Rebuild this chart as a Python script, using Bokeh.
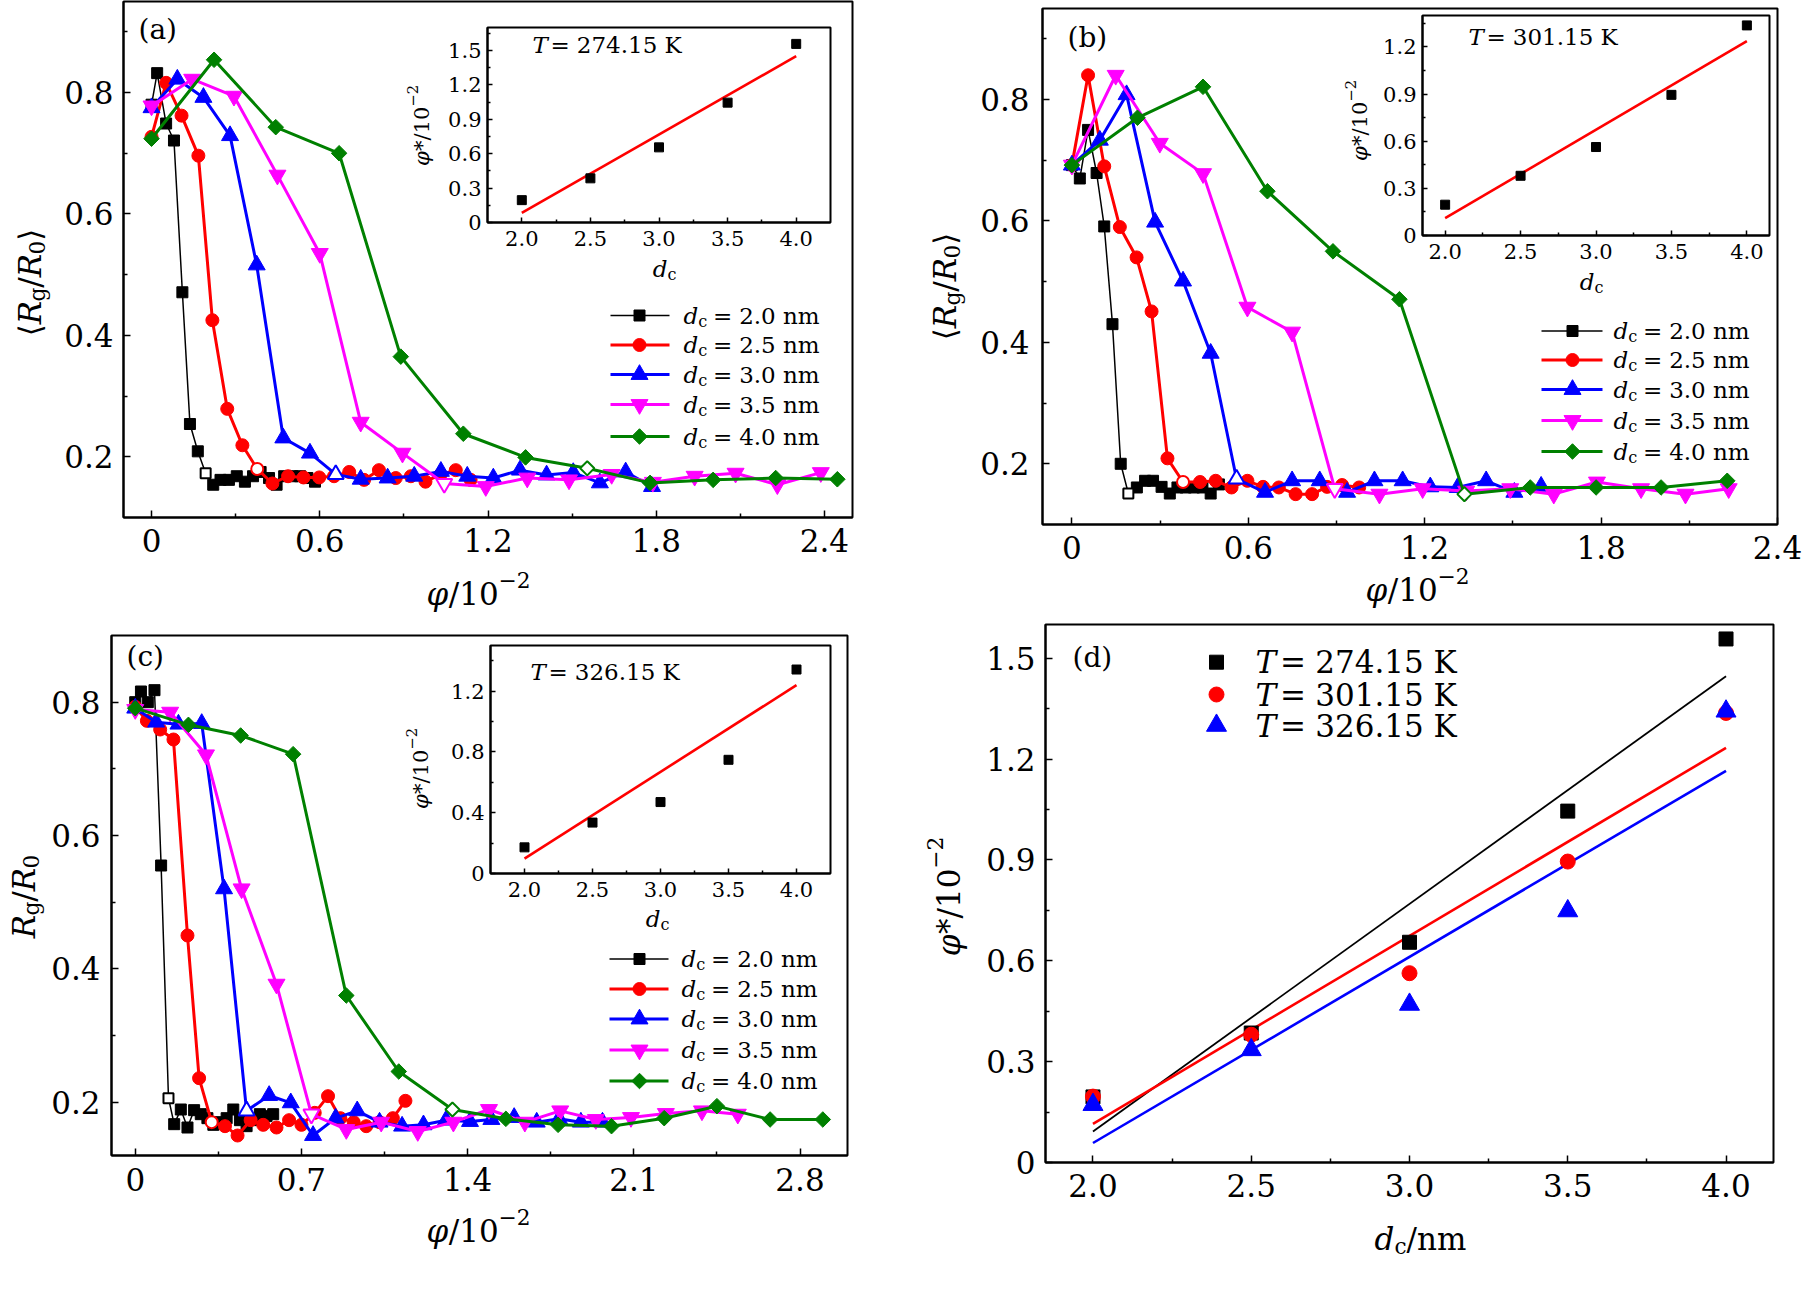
import numpy as np
from bokeh.plotting import figure
from bokeh.models import Range1d, FixedTicker, Label, GridBox, CustomJSTickFormatter
from bokeh.embed import file_html
from bokeh.resources import INLINE

FONT = "DejaVu Serif"

# ================= data =================
dc_labels = ["2.0", "2.5", "3.0", "3.5", "4.0"]
temp_labels = ["274.15", "301.15", "326.15"]

# ---- panel (a)  T = 274.15 K : <Rg/R0> vs phi (1e-2) ----
a20_phi = [0.0, 0.020, 0.052, 0.080, 0.110, 0.137, 0.165, 0.193, 0.220, 0.246, 0.276, 0.304, 0.333, 0.362, 0.389, 0.419, 0.446, 0.473, 0.502, 0.530, 0.556, 0.583]
a20_rg = [0.780, 0.832, 0.749, 0.721, 0.471, 0.254, 0.209, 0.173, 0.154, 0.162, 0.162, 0.168, 0.159, 0.168, 0.175, 0.165, 0.154, 0.168, 0.168, 0.168, 0.165, 0.159]
a25_phi = [0.0, 0.052, 0.107, 0.167, 0.217, 0.270, 0.324, 0.377, 0.431, 0.487, 0.542, 0.598, 0.651, 0.705, 0.758, 0.811, 0.871, 0.925, 0.977, 1.031, 1.085, 1.138]
a25_rg = [0.727, 0.816, 0.762, 0.696, 0.425, 0.279, 0.219, 0.180, 0.156, 0.168, 0.166, 0.166, 0.168, 0.175, 0.162, 0.178, 0.165, 0.168, 0.159, 0.171, 0.178, 0.162]
a30_phi = [0.0, 0.092, 0.185, 0.280, 0.375, 0.470, 0.565, 0.657, 0.746, 0.842, 0.937, 1.032, 1.126, 1.219, 1.314, 1.409, 1.504, 1.599, 1.691, 1.785]
a30_rg = [0.775, 0.822, 0.792, 0.729, 0.516, 0.231, 0.206, 0.171, 0.163, 0.165, 0.168, 0.176, 0.168, 0.165, 0.178, 0.170, 0.174, 0.157, 0.175, 0.151]
a35_phi = [0.0, 0.145, 0.294, 0.449, 0.600, 0.746, 0.895, 1.044, 1.192, 1.340, 1.489, 1.641, 1.788, 1.937, 2.083, 2.232, 2.387]
a35_rg = [0.778, 0.822, 0.794, 0.664, 0.535, 0.257, 0.206, 0.156, 0.151, 0.165, 0.162, 0.171, 0.158, 0.168, 0.173, 0.154, 0.174]
a40_phi = [0.0, 0.223, 0.443, 0.669, 0.889, 1.112, 1.334, 1.554, 1.778, 2.003, 2.226, 2.446]
a40_rg = [0.724, 0.854, 0.743, 0.700, 0.365, 0.238, 0.199, 0.181, 0.157, 0.162, 0.165, 0.163]
a_open = [7, 7, 7, 7, 7]

# ---- panel (b)  T = 301.15 K ----
b20_phi = [0.0, 0.027, 0.055, 0.084, 0.110, 0.138, 0.166, 0.192, 0.221, 0.249, 0.276, 0.305, 0.333, 0.359, 0.387, 0.415, 0.444, 0.472, 0.500]
b20_rg = [0.692, 0.670, 0.750, 0.679, 0.591, 0.430, 0.200, 0.151, 0.161, 0.172, 0.172, 0.162, 0.151, 0.161, 0.161, 0.161, 0.161, 0.151, 0.166]
b25_phi = [0.0, 0.055, 0.110, 0.163, 0.220, 0.271, 0.325, 0.378, 0.436, 0.489, 0.543, 0.597, 0.650, 0.704, 0.761, 0.817, 0.868, 0.919, 0.977]
b25_rg = [0.692, 0.840, 0.690, 0.590, 0.540, 0.451, 0.209, 0.170, 0.170, 0.172, 0.161, 0.172, 0.162, 0.161, 0.150, 0.150, 0.162, 0.165, 0.161]
b30_phi = [0.0, 0.095, 0.186, 0.283, 0.378, 0.472, 0.560, 0.657, 0.749, 0.843, 0.936, 1.029, 1.125, 1.219, 1.312, 1.409, 1.505, 1.596]
b30_rg = [0.692, 0.733, 0.808, 0.598, 0.501, 0.382, 0.175, 0.153, 0.172, 0.172, 0.153, 0.172, 0.172, 0.162, 0.161, 0.172, 0.153, 0.163]
b35_phi = [0.0, 0.149, 0.299, 0.446, 0.597, 0.749, 0.894, 1.046, 1.193, 1.341, 1.491, 1.639, 1.786, 1.936, 2.087, 2.234]
b35_rg = [0.692, 0.840, 0.728, 0.678, 0.458, 0.417, 0.159, 0.150, 0.159, 0.155, 0.159, 0.150, 0.170, 0.159, 0.150, 0.159]
b40_phi = [0.0, 0.223, 0.446, 0.665, 0.888, 1.114, 1.335, 1.559, 1.783, 2.004, 2.229]
b40_rg = [0.692, 0.770, 0.821, 0.649, 0.550, 0.471, 0.150, 0.161, 0.161, 0.161, 0.172]
b_open = [7, 7, 6, 6, 6]

# ---- panel (c)  T = 326.15 K ----
c20_phi = [0.0, 0.024, 0.053, 0.081, 0.109, 0.140, 0.164, 0.192, 0.220, 0.248, 0.276, 0.304, 0.329, 0.357, 0.385, 0.413, 0.441, 0.469, 0.497, 0.525, 0.553, 0.581]
c20_rg = [0.800, 0.816, 0.800, 0.818, 0.555, 0.206, 0.167, 0.189, 0.162, 0.188, 0.182, 0.176, 0.166, 0.170, 0.176, 0.189, 0.173, 0.164, 0.173, 0.182, 0.179, 0.182]
c25_phi = [0.0, 0.049, 0.105, 0.161, 0.220, 0.269, 0.322, 0.378, 0.431, 0.486, 0.539, 0.595, 0.648, 0.700, 0.756, 0.812, 0.864, 0.920, 0.973, 1.029, 1.085, 1.138]
c25_rg = [0.793, 0.772, 0.759, 0.744, 0.450, 0.236, 0.170, 0.164, 0.150, 0.173, 0.166, 0.162, 0.173, 0.166, 0.184, 0.209, 0.176, 0.170, 0.164, 0.170, 0.176, 0.202]
c30_phi = [0.0, 0.088, 0.182, 0.280, 0.374, 0.469, 0.564, 0.655, 0.749, 0.844, 0.935, 1.029, 1.124, 1.214, 1.309, 1.410, 1.500, 1.596, 1.691, 1.785, 1.877, 1.968]
c30_rg = [0.791, 0.770, 0.767, 0.768, 0.520, 0.187, 0.210, 0.199, 0.150, 0.176, 0.187, 0.170, 0.164, 0.166, 0.173, 0.171, 0.174, 0.177, 0.170, 0.175, 0.170, 0.170]
c35_phi = [0.0, 0.147, 0.298, 0.448, 0.595, 0.742, 0.889, 1.036, 1.190, 1.340, 1.490, 1.641, 1.790, 1.940, 2.088, 2.235, 2.387, 2.538]
c35_rg = [0.789, 0.785, 0.721, 0.520, 0.377, 0.182, 0.159, 0.170, 0.156, 0.170, 0.189, 0.170, 0.187, 0.174, 0.177, 0.183, 0.187, 0.182]
c40_phi = [0.0, 0.224, 0.444, 0.665, 0.889, 1.110, 1.336, 1.561, 1.781, 2.006, 2.228, 2.450, 2.674, 2.896]
c40_rg = [0.791, 0.766, 0.750, 0.722, 0.360, 0.246, 0.189, 0.175, 0.166, 0.164, 0.176, 0.194, 0.174, 0.174]
c_open = [5, 6, 5, 5, 6]

# ---- panel (d) and insets : phi* vs d_c ----
dc_nm = [2.0, 2.5, 3.0, 3.5, 4.0]
phi_star_274 = [0.195, 0.385, 0.655, 1.045, 1.557]
phi_star_301 = [0.196, 0.380, 0.563, 0.895, 1.337]
phi_star_326 = [0.172, 0.335, 0.470, 0.748, 1.342]
fit_dc = [2.0, 4.0]
fit_274 = [0.092, 1.446]
fit_301 = [0.115, 1.233]
fit_326 = [0.058, 1.165]
inset_fit_274 = [0.083, 1.450]
inset_fit_301 = [0.110, 1.237]
inset_fit_326 = [0.098, 1.239]

# ================= styling =================
COLORS = ["#000000", "#ff0000", "#0000ff", "#ff00ff", "#008000"]
MARKERS = ["square", "circle", "triangle", "inverted_triangle", "diamond"]
LINE_W = [1.5, 3, 3, 3, 3]
MSIZE = {"square": 11, "circle": 13, "triangle": 17, "inverted_triangle": 17, "diamond": 11}

EM = {'.': 0.318, ' ': 0.318, '=': 0.838, 'n': 0.644, 'm': 0.948, 'K': 0.738, 'T': 0.668,
      'd': 0.640, 'c': 0.560, '/': 0.337, 'R': 0.730, 'g': 0.640, '\u27e8': 0.39, '\u27e9': 0.39,
      '\u03c6': 0.72, '*': 0.5, '\u2212': 0.838, '(': 0.39, ')': 0.39, 'a': 0.596, 'b': 0.640}
for _d in "0123456789":
    EM[_d] = 0.636


def tw(s, fs):
    return sum(EM.get(ch, 0.6) for ch in s) * fs


class Spec:
    def __init__(self, box, frame, xr, yr):
        self.box, self.frame, self.xr, self.yr = box, frame, xr, yr

    def dx(self, px):
        l, t, r, b = self.frame
        return self.xr[0] + (px - l) / (r - l) * (self.xr[1] - self.xr[0])

    def dy(self, py):
        l, t, r, b = self.frame
        return self.yr[1] - (py - t) / (b - t) * (self.yr[1] - self.yr[0])


def make_fig(s, xt, xm, yt, ym, tick_fs, xstd, ystd, tin, tmin, transparent=False):
    x0, y0, w, h = s.box
    l, t, r, b = s.frame
    p = figure(width=w, height=h, x_range=Range1d(*s.xr), y_range=Range1d(*s.yr),
               output_backend="svg", toolbar_location=None, tools="",
               min_border_left=l - x0, min_border_right=x0 + w - r,
               min_border_top=t - y0, min_border_bottom=y0 + h - b)
    p.frame_align = False
    p.xgrid.visible = False
    p.ygrid.visible = False
    p.outline_line_color = "black"
    p.outline_line_width = 2
    p.outline_line_alpha = 1
    if transparent:
        p.background_fill_alpha = 0
        p.border_fill_alpha = 0
    else:
        p.background_fill_color = "white"
        p.border_fill_color = "white"
    fmt = CustomJSTickFormatter(code="return Math.abs(tick) < 1e-9 ? '0' : tick.toFixed(1);")
    for ax, ticks, minor, std in ((p.xaxis[0], xt, xm, xstd), (p.yaxis[0], yt, ym, ystd)):
        ax.ticker = FixedTicker(ticks=ticks, minor_ticks=minor)
        ax.formatter = fmt
        ax.axis_line_color = "black"
        ax.axis_line_width = 2
        ax.major_tick_in = tin
        ax.major_tick_out = 0
        ax.minor_tick_in = tmin
        ax.minor_tick_out = 0
        ax.major_tick_line_color = "black"
        ax.major_tick_line_width = 1.5
        ax.minor_tick_line_color = "black"
        ax.minor_tick_line_width = 1.5
        ax.major_label_text_font = FONT
        ax.major_label_text_font_size = f"{tick_fs}px"
        ax.major_label_text_color = "black"
        ax.major_label_standoff = std
    return p


# transparent page-wide overlay that carries the composite (sub/superscripted) texts
PAGE_W, PAGE_H = 1805, 1293
SOV = Spec((0, 0, PAGE_W, PAGE_H), (0, 0, PAGE_W, PAGE_H), (0, PAGE_W), (PAGE_H, 0))
ov = figure(width=PAGE_W, height=PAGE_H, x_range=Range1d(0, PAGE_W), y_range=Range1d(PAGE_H, 0),
            x_axis_type=None, y_axis_type=None, output_backend="svg", toolbar_location=None, tools="",
            min_border_left=0, min_border_right=0, min_border_top=0, min_border_bottom=0)
ov.frame_align = False
ov.xgrid.visible = False
ov.ygrid.visible = False
ov.outline_line_color = None
ov.background_fill_alpha = 0
ov.border_fill_alpha = 0


def rich(segs, cx, cy, vertical=False, align="center"):
    """segs: (text, font px, downward shift px, italic, gap before px) -- page pixel coords"""
    segs = [tuple(sg) + (0, 0, False, 0)[len(sg) - 1:] for sg in segs]
    total = sum(tw(t, f) + g for t, f, d, it, g in segs)
    if not vertical:
        x = cx - total / 2 if align == "center" else cx
        base = cy
        for t, f, d, it, g in segs:
            x += g
            ov.add_layout(Label(x=SOV.dx(x), y=SOV.dy(base + d), text=t, text_font=FONT,
                                text_font_size=f"{f:.1f}px",
                                text_font_style="italic" if it else "normal",
                                text_align="left", text_baseline="alphabetic", text_color="black"))
            x += tw(t, f)
    else:
        y = cy + total / 2
        base = cx
        for t, f, d, it, g in segs:
            y -= g
            ov.add_layout(Label(x=SOV.dx(base + d), y=SOV.dy(y), text=t, text_font=FONT,
                                text_font_size=f"{f:.1f}px", angle=np.pi / 2,
                                text_font_style="italic" if it else "normal",
                                text_align="left", text_baseline="alphabetic", text_color="black"))
            y -= tw(t, f)


def draw_marker(p, xs, ys, kind, color, size, hollow=False):
    kw = dict(size=size, line_color=color, fill_color=("white" if hollow else color),
              line_width=(2 if hollow else 1))
    if kind == "diamond":
        p.scatter(xs, ys, marker="square", angle=np.pi / 4, **kw)
    else:
        p.scatter(xs, ys, marker=kind, **kw)


def draw_curves(p, curves, opens):
    for k, (xs, ys) in enumerate(curves):
        p.line(xs, ys, line_color=COLORS[k], line_width=LINE_W[k])
        hi = opens[k]
        fx = [v for i, v in enumerate(xs) if i != hi]
        fy = [v for i, v in enumerate(ys) if i != hi]
        draw_marker(p, fx, fy, MARKERS[k], COLORS[k], MSIZE[MARKERS[k]])
        draw_marker(p, [xs[hi]], [ys[hi]], MARKERS[k], COLORS[k], MSIZE[MARKERS[k]] - 1, hollow=True)


def dc_text(fs, val, tail):
    return [("d", fs, 0, True), ("c", 0.7 * fs, 0.25 * fs, False), ("=", fs, 0, False, 0.25 * fs),
            (val + tail, fs, 0, False, 0.3 * fs)]


def dc_legend(p, s, rows, lx0, lx1, mx, tx, fs):
    for k in range(5):
        yy = s.dy(rows[k])
        p.line([s.dx(lx0), s.dx(lx1)], [yy, yy], line_color=COLORS[k], line_width=LINE_W[k])
        draw_marker(p, [s.dx(mx)], [yy], MARKERS[k], COLORS[k], MSIZE[MARKERS[k]])
        rich(dc_text(fs, dc_labels[k], " nm"), tx, rows[k], align="left")


def t_text(fs, temp):
    return [("T", fs, 0, True), ("=", fs, 0, False, 0.12 * fs), (temp + " K", fs, 0, False, 0.3 * fs)]


def rg_label(cx, cy, fs, brackets=True):
    segs = [("R", fs, 0, True), ("g", 0.7 * fs, 0.25 * fs, False), ("/", fs, 0, False),
            ("R", fs, 0, True), ("0", 0.7 * fs, 0.25 * fs, False)]
    if brackets:
        segs = [("\u27e8", fs, 0, False)] + segs + [("\u27e9", fs, 0, False)]
    rich(segs, cx, cy, vertical=True)


def phi_label(cx, cy, fs, star=False, vertical=False):
    segs = [("\u03c6", fs, 0, True), (("*/10" if star else "/10"), fs, 0, False),
            ("\u22122", 0.7 * fs, -0.42 * fs, False)]
    rich(segs, cx, cy, vertical=vertical)


# ================= layout specs (page pixels) =================
SA = Spec((0, 0, 900, 620), (123, 1, 852, 517), (-0.1, 2.5), (0.1, 0.95))
SB = Spec((900, 0, 905, 620), (1042, 8, 1777, 524), (-0.1, 2.4), (0.1, 0.95))
SC = Spec((0, 620, 900, 673), (111, 635, 847, 1155), (-0.1, 3.0), (0.12, 0.9))
SD = Spec((900, 620, 905, 673), (1045, 624, 1773, 1162), (1.85, 4.15), (0.0, 1.6))
SIA = Spec((400, 10, 440, 285), (487, 27, 830, 222), (1.75, 4.25), (0.0, 1.7))
SIB = Spec((1335, 5, 445, 295), (1422, 15, 1769, 235), (1.85, 4.15), (0.0, 1.4))
SIC = Spec((400, 635, 440, 300), (490, 645, 830, 873), (1.75, 4.25), (0.0, 1.5))

TFS = 31
yt_main = [0.2, 0.4, 0.6, 0.8]

# ---- panel (a)
pa = make_fig(SA, [0, 0.6, 1.2, 1.8, 2.4], [0.3, 0.9, 1.5, 2.1], yt_main, [0.3, 0.5, 0.7, 0.9],
              TFS, 11, 10, 7, 4)
draw_curves(pa, [(a20_phi, a20_rg), (a25_phi, a25_rg), (a30_phi, a30_rg),
                 (a35_phi, a35_rg), (a40_phi, a40_rg)], a_open)
dc_legend(pa, SA, [315, 344.5, 374, 404, 436], 610, 669, 639, 683, 23)
rich([("(a)", 28)], 138, 29, align="left")
rg_label(29, 282, 31)
phi_label(478, 593, 31)

# ---- panel (b)
pb = make_fig(SB, [0, 0.6, 1.2, 1.8, 2.4], [0.3, 0.9, 1.5, 2.1], yt_main, [0.3, 0.5, 0.7, 0.9],
              TFS, 11, 13, 7, 4)
draw_curves(pb, [(b20_phi, b20_rg), (b25_phi, b25_rg), (b30_phi, b30_rg),
                 (b35_phi, b35_rg), (b40_phi, b40_rg)], b_open)
dc_legend(pb, SB, [330.5, 359.5, 389, 420, 451], 1541, 1602, 1572, 1613, 23)
rich([("(b)", 28)], 1067, 37, align="left")
rg_label(944, 286, 31)
phi_label(1417, 589, 31)

# ---- panel (c)
pc = make_fig(SC, [0, 0.7, 1.4, 2.1, 2.8], [0.35, 1.05, 1.75, 2.45], yt_main, [0.3, 0.5, 0.7],
              TFS, 12, 11, 7, 4)
draw_curves(pc, [(c20_phi, c20_rg), (c25_phi, c25_rg), (c30_phi, c30_rg),
                 (c35_phi, c35_rg), (c40_phi, c40_rg)], c_open)
dc_legend(pc, SC, [958.5, 988.5, 1018.5, 1049.5, 1080.5], 609, 668, 639, 681, 23)
rich([("(c)", 28)], 126, 656, align="left")
rg_label(23, 896, 31, brackets=False)
phi_label(478, 1230, 31)

# ---- panel (d)
pd_ = make_fig(SD, [2.0, 2.5, 3.0, 3.5, 4.0], [2.25, 2.75, 3.25, 3.75],
               [0, 0.3, 0.6, 0.9, 1.2, 1.5], [0.15, 0.45, 0.75, 1.05, 1.35],
               TFS, 11, 10, 7, 4)
for fy, col in ((fit_274, COLORS[0]), (fit_301, COLORS[1]), (fit_326, COLORS[2])):
    pd_.line(fit_dc, fy, line_color=col, line_width=(1.8 if col == COLORS[0] else 2.6))
draw_marker(pd_, dc_nm, phi_star_274, "square", COLORS[0], 14)
draw_marker(pd_, dc_nm, phi_star_301, "circle", COLORS[1], 15)
draw_marker(pd_, dc_nm, phi_star_326, "triangle", COLORS[2], 20)
for k, (kind, size, row) in enumerate((("square", 14, 661.7), ("circle", 15, 694), ("triangle", 20, 725))):
    draw_marker(pd_, [SD.dx(1216)], [SD.dy(row)], kind, COLORS[k], size)
    rich(t_text(31, temp_labels[k]), 1255, row, align="left")
rich([("(d)", 28)], 1072, 656.5, align="left")
phi_label(948, 896, 31, star=True, vertical=True)
rich([("d", 31, 0, True), ("c", 21.7, 7.8, False), ("/nm", 31, 0, False)], 1420, 1238)


# ---- insets
def make_inset(s, yt, ym, phis, fit, temp, tlab_x, tlab_y, ylab, xlab):
    p = make_fig(s, [2.0, 2.5, 3.0, 3.5, 4.0], [2.25, 2.75, 3.25, 3.75], yt, ym,
                 21, 8, 6, 5, 3, transparent=True)
    p.line(fit_dc, fit, line_color="#ff0000", line_width=2.6)
    draw_marker(p, dc_nm, phis, "square", "#000000", 9)
    rich(t_text(23, temp), tlab_x, tlab_y, align="left")
    phi_label(ylab[0], ylab[1], 21, star=True, vertical=True)
    rich([("d", 23, 0, True), ("c", 16, 5.8, False)], xlab[0], xlab[1])
    return p


pia = make_inset(SIA, [0, 0.3, 0.6, 0.9, 1.2, 1.5], [0.15, 0.45, 0.75, 1.05, 1.35, 1.65],
                 phi_star_274, inset_fit_274, temp_labels[0], 532, 44, (421, 125), (664, 268))
pib = make_inset(SIB, [0, 0.3, 0.6, 0.9, 1.2], [0.15, 0.45, 0.75, 1.05, 1.35],
                 phi_star_301, inset_fit_301, temp_labels[1], 1468, 36, (1359, 120), (1591, 281))
pic = make_inset(SIC, [0, 0.4, 0.8, 1.2], [0.2, 0.6, 1.0, 1.4],
                 phi_star_326, inset_fit_326, temp_labels[2], 530, 671, (420, 768), (657, 918))

# ================= grid with overlapping insets and the text overlay =================
items = [(pa, SA), (pb, SB), (pc, SC), (pd_, SD), (pia, SIA), (pib, SIB), (pic, SIC), (ov, SOV)]
xe = sorted({0, PAGE_W} | {s.box[0] for _, s in items} | {s.box[0] + s.box[2] for _, s in items})
ye = sorted({0, PAGE_H} | {s.box[1] for _, s in items} | {s.box[1] + s.box[3] for _, s in items})
children = []
for fig, s in items:
    x0, y0, w, h = s.box
    c0, c1 = xe.index(x0), xe.index(x0 + w)
    r0, r1 = ye.index(y0), ye.index(y0 + h)
    children.append((fig, r0, c0, r1 - r0, c1 - c0))
cols = [f"{b - a}px" for a, b in zip(xe, xe[1:])]
rows = [f"{b - a}px" for a, b in zip(ye, ye[1:])]
grid = GridBox(children=children, rows=rows, cols=cols, spacing=0)

open("out.html", "w").write(file_html(grid, INLINE, title="phi star"))
